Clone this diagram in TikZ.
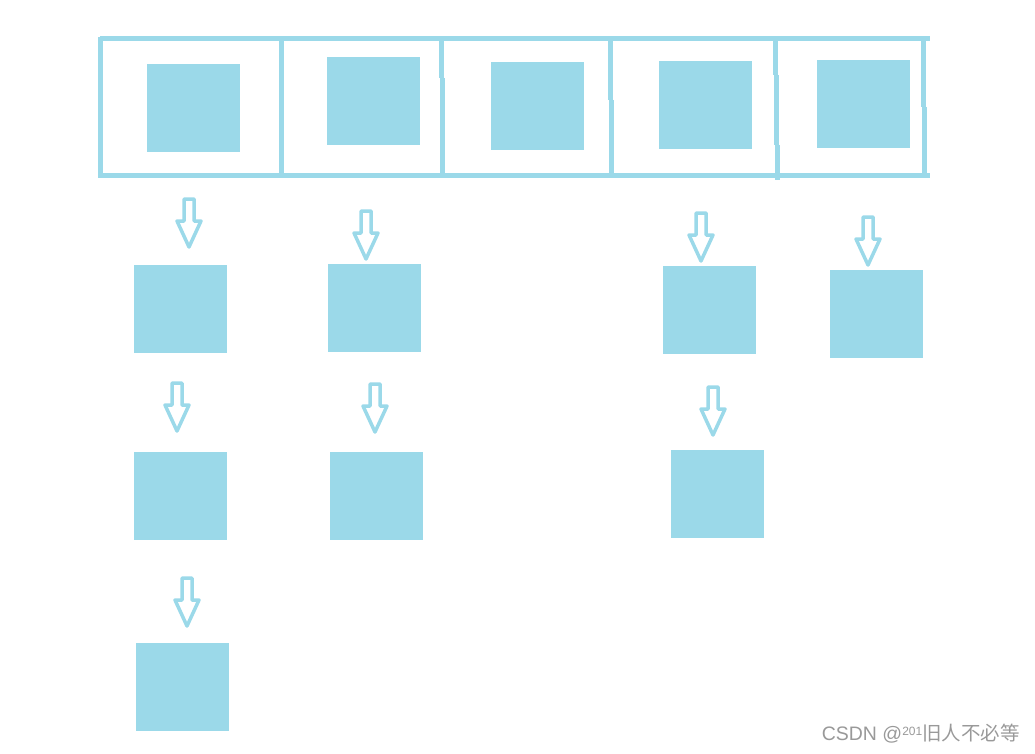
\documentclass[tikz,border=0pt]{standalone}
\usepackage{fontspec}
\newfontfamily\cjk{Noto Sans CJK SC}
\setmainfont{Liberation Sans}
\definecolor{sky}{HTML}{9BD9E9}
\tikzset{
  sq/.style={fill=sky, draw=none, minimum width=93pt, minimum height=88pt, inner sep=0pt, anchor=north west},
  frameline/.style={draw=sky, line width=5pt},
  pics/harrow/.style={code={
    \draw[draw=sky, line width=3.5pt, line join=round, line cap=round]
      (-5,0) -- (5,0) -- (5,22) -- (12,22) -- (0,48) -- (-12,22) -- (-5,22) -- cycle;
  }}
}
\begin{document}
\begin{tikzpicture}[x=1pt,y=-1pt]
\useasboundingbox (0,0) rectangle (1035,754);
% frame
\draw[frameline] (100,39) -- (930,39);
\draw[frameline] (98,176) -- (930,176);
\draw[frameline] (100,37) -- (100,178);
\draw[frameline] (281,41) -- (281,174);
\draw[frameline] (441,41) -- (441,78) (442,78) -- (442,178);
\draw[frameline] (610,41) -- (610,100) (611,100) -- (611,174);
\draw[frameline] (775,41) -- (775,75) (776,75) -- (776,145) (777,145) -- (777,180);
\draw[frameline] (923,41) -- (923,107) (924,107) -- (924,174);
% squares in frame
\node[sq] (t1) at (147,64) {};
\node[sq] (t2) at (327,57) {};
\node[sq] (t3) at (491,62) {};
\node[sq] (t4) at (659,61) {};
\node[sq] (t5) at (817,60) {};
% chains
\node[sq] (a1) at (134,265) {};
\node[sq] (a2) at (134,452) {};
\node[sq] (a3) at (136,643) {};
\node[sq] (b1) at (328,264) {};
\node[sq] (b2) at (330,452) {};
\node[sq] (d1) at (663,266) {};
\node[sq] (d2) at (671,450) {};
\node[sq] (e1) at (830,270) {};
% arrows
\pic at (189,199) {harrow};
\pic at (366,211) {harrow};
\pic at (701,213) {harrow};
\pic at (868,217) {harrow};
\pic at (177,383) {harrow};
\pic at (375,384) {harrow};
\pic at (713,387) {harrow};
\pic at (187,578) {harrow};
% watermark
\node[anchor=east, text=black!40, inner sep=0pt] (wm) at (1020,734)
  {\fontsize{19.5pt}{21pt}\selectfont CSDN @\raisebox{0.5ex}{\fontsize{12pt}{13pt}\selectfont 201}{\cjk 旧人不必等}};
\end{tikzpicture}
\end{document}
